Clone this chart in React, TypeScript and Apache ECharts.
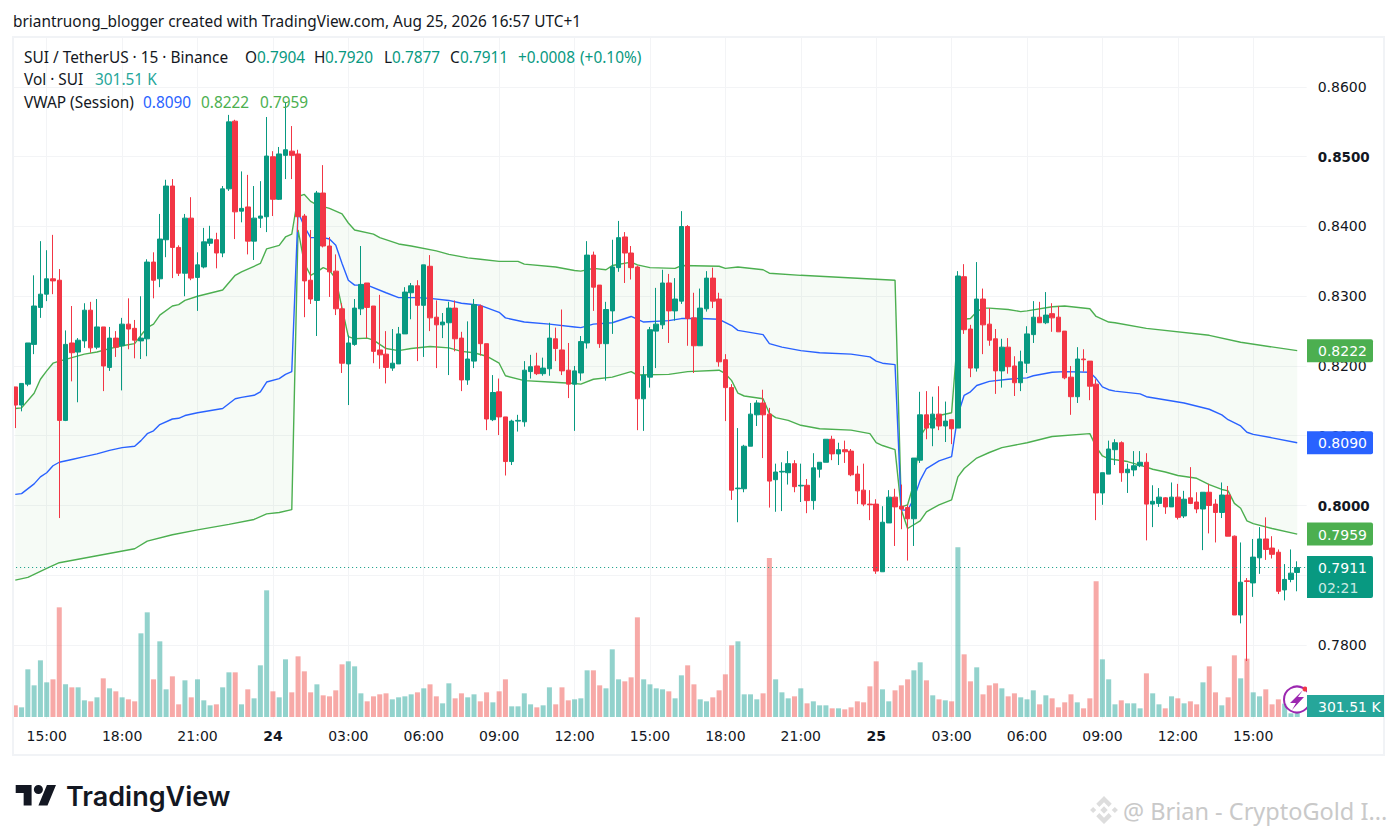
import React, { useEffect, useRef } from "react";
import * as echarts from "echarts";

const opens = [
0.8170,0.8144,0.8174,0.8231,0.8284,0.8303,0.8325,0.8323,0.8122,0.8233,
0.8220,0.8236,0.8280,0.8227,0.8256,0.8198,0.8240,0.8229,0.8260,0.8254,
0.8236,0.8239,0.8349,0.8325,0.8381,0.8458,0.8370,0.8333,0.8412,0.8327,
0.8342,0.8376,0.8381,0.8362,0.8454,0.8551,0.8422,0.8428,0.8379,0.8412,
0.8414,0.8500,0.8439,0.8502,0.8508,0.8504,0.8415,0.8323,0.8294,0.8448,
0.8372,0.8336,0.8282,0.8203,0.8231,0.8282,0.8319,0.8286,0.8223,0.8217,
0.8197,0.8203,0.8246,0.8305,0.8315,0.8287,0.8343,0.8270,0.8259,0.8262,
0.8283,0.8240,0.8180,0.8207,0.8286,0.8232,0.8123,0.8163,0.8127,0.8063,
0.8121,0.8120,0.8192,0.8200,0.8189,0.8196,0.8239,0.8223,0.8194,0.8174,
0.8190,0.8233,0.8359,0.8316,0.8232,0.8279,0.8341,0.8385,0.8362,0.8342,
0.8153,0.8184,0.8250,0.8259,0.8319,0.8279,0.8293,0.8400,0.8269,0.8229,
0.8282,0.8326,0.8296,0.8209,0.8169,0.8024,0.8024,0.8085,0.8130,0.8147,
0.8131,0.8037,0.8048,0.8047,0.8060,0.8028,0.8029,0.8007,0.8052,0.8062,
0.8095,0.8074,0.8080,0.8078,0.8045,0.8022,0.8002,0.8002,0.7905,0.7975,
0.8012,0.7999,0.7997,0.7981,0.8065,0.8130,0.8111,0.8131,0.8114,0.8123,
0.8111,0.8328,0.8253,0.8197,0.8296,0.8260,0.8239,0.8193,0.8227,0.8200,
0.8176,0.8204,0.8245,0.8270,0.8262,0.8275,0.8270,0.8250,0.8184,0.8156,
0.8210,0.8207,0.8174,0.8018,0.8045,0.8080,0.8090,0.8047,0.8051,0.8057,
0.8062,0.8002,0.8003,0.8011,0.7998,0.8012,0.7985,0.8011,0.8005,0.7995,
0.8019,0.8002,0.7990,0.8015,0.7956,0.7843,0.7892,0.7889,0.7925,0.7952,
0.7939,0.7933,0.7879,0.7894,0.7904];
const highs = [
0.8170,0.8175,0.8233,0.8330,0.8379,0.8366,0.8388,0.8339,0.8251,0.8286,
0.8240,0.8290,0.8292,0.8296,0.8256,0.8256,0.8250,0.8269,0.8297,0.8266,
0.8300,0.8353,0.8363,0.8418,0.8467,0.8468,0.8373,0.8418,0.8442,0.8363,
0.8398,0.8401,0.8391,0.8458,0.8560,0.8553,0.8479,0.8474,0.8458,0.8465,
0.8557,0.8508,0.8514,0.8577,0.8544,0.8510,0.8418,0.8395,0.8451,0.8488,
0.8385,0.8360,0.8290,0.8244,0.8296,0.8372,0.8319,0.8286,0.8302,0.8250,
0.8253,0.8256,0.8313,0.8319,0.8323,0.8345,0.8359,0.8294,0.8276,0.8292,
0.8294,0.8249,0.8264,0.8296,0.8288,0.8232,0.8187,0.8182,0.8127,0.8123,
0.8130,0.8207,0.8216,0.8219,0.8212,0.8262,0.8255,0.8281,0.8233,0.8200,
0.8243,0.8379,0.8364,0.8316,0.8292,0.8381,0.8408,0.8392,0.8372,0.8344,
0.8200,0.8256,0.8312,0.8338,0.8332,0.8326,0.8422,0.8402,0.8305,0.8311,
0.8336,0.8341,0.8305,0.8217,0.8174,0.8111,0.8087,0.8147,0.8151,0.8166,
0.8140,0.8060,0.8062,0.8078,0.8065,0.8060,0.8038,0.8075,0.8062,0.8095,
0.8100,0.8090,0.8093,0.8081,0.8057,0.8060,0.8022,0.8009,0.7999,0.8022,
0.8024,0.8030,0.8001,0.8068,0.8163,0.8164,0.8156,0.8171,0.8149,0.8123,
0.8336,0.8346,0.8259,0.8349,0.8311,0.8283,0.8253,0.8239,0.8240,0.8214,
0.8222,0.8257,0.8293,0.8292,0.8306,0.8290,0.8286,0.8250,0.8200,0.8227,
0.8224,0.8207,0.8181,0.8047,0.8093,0.8095,0.8092,0.8060,0.8078,0.8078,
0.8075,0.8029,0.8025,0.8012,0.8033,0.8031,0.8021,0.8055,0.8019,0.8019,
0.8031,0.8009,0.8033,0.8028,0.7957,0.7947,0.7896,0.7952,0.7969,0.7983,
0.7956,0.7937,0.7916,0.7937,0.7920];
const lows = [
0.8111,0.8135,0.8171,0.8217,0.8269,0.8293,0.8303,0.7982,0.8121,0.8178,
0.8148,0.8226,0.8219,0.8224,0.8164,0.8193,0.8213,0.8165,0.8224,0.8211,
0.8210,0.8214,0.8297,0.8313,0.8356,0.8326,0.8329,0.8300,0.8323,0.8279,
0.8340,0.8372,0.8340,0.8356,0.8451,0.8382,0.8406,0.8360,0.8352,0.8398,
0.8392,0.8415,0.8438,0.8468,0.8468,0.8392,0.8270,0.8289,0.8243,0.8370,
0.8299,0.8273,0.8190,0.8144,0.8229,0.8273,0.8240,0.8204,0.8196,0.8175,
0.8193,0.8203,0.8246,0.8267,0.8207,0.8213,0.8250,0.8197,0.8240,0.8187,
0.8221,0.8164,0.8173,0.8197,0.8215,0.8108,0.8121,0.8101,0.8043,0.8058,
0.8106,0.8113,0.8182,0.8187,0.8186,0.8186,0.8207,0.8187,0.8154,0.8107,
0.8179,0.8225,0.8279,0.8226,0.8179,0.8246,0.8335,0.8319,0.8324,0.8108,
0.8107,0.8169,0.8197,0.8253,0.8233,0.8265,0.8289,0.8229,0.8190,0.8229,
0.8278,0.8283,0.8199,0.8121,0.8008,0.7976,0.8019,0.8085,0.8114,0.8068,
0.7997,0.7991,0.7992,0.8030,0.8019,0.8005,0.7989,0.7994,0.8040,0.8062,
0.8065,0.8058,0.8061,0.8042,0.8002,0.7999,0.7979,0.7902,0.7905,0.7975,
0.7942,0.7966,0.7921,0.7942,0.8061,0.8095,0.8085,0.8108,0.8091,0.8088,
0.8111,0.8246,0.8184,0.8192,0.8217,0.8229,0.8160,0.8169,0.8189,0.8157,
0.8164,0.8190,0.8233,0.8262,0.8260,0.8249,0.8249,0.8181,0.8130,0.8147,
0.8192,0.8151,0.7979,0.8001,0.8045,0.8058,0.8034,0.8018,0.8042,0.8055,
0.7950,0.7969,0.7998,0.7988,0.7998,0.7980,0.7982,0.8002,0.7989,0.7936,
0.7960,0.7947,0.7982,0.7956,0.7843,0.7831,0.7777,0.7869,0.7902,0.7922,
0.7924,0.7873,0.7864,0.7890,0.7877];
const closes = [
0.8144,0.8175,0.8233,0.8286,0.8303,0.8325,0.8322,0.8122,0.8231,0.8219,
0.8237,0.8280,0.8226,0.8256,0.8200,0.8240,0.8227,0.8260,0.8253,0.8237,
0.8240,0.8349,0.8323,0.8382,0.8458,0.8370,0.8333,0.8412,0.8326,0.8345,
0.8378,0.8382,0.8362,0.8454,0.8550,0.8421,0.8426,0.8379,0.8412,0.8415,
0.8501,0.8439,0.8504,0.8510,0.8502,0.8414,0.8322,0.8296,0.8448,0.8372,
0.8335,0.8282,0.8204,0.8233,0.8283,0.8317,0.8284,0.8221,0.8216,0.8198,
0.8204,0.8246,0.8306,0.8315,0.8287,0.8345,0.8269,0.8259,0.8263,0.8283,
0.8239,0.8180,0.8210,0.8288,0.8232,0.8124,0.8162,0.8127,0.8063,0.8121,
0.8122,0.8194,0.8199,0.8189,0.8197,0.8240,0.8225,0.8193,0.8174,0.8193,
0.8235,0.8359,0.8313,0.8232,0.8281,0.8342,0.8384,0.8362,0.8341,0.8153,
0.8187,0.8252,0.8260,0.8319,0.8279,0.8296,0.8400,0.8268,0.8229,0.8283,
0.8326,0.8293,0.8206,0.8169,0.8022,0.8025,0.8085,0.8131,0.8147,0.8130,
0.8035,0.8048,0.8049,0.8060,0.8027,0.8029,0.8007,0.8054,0.8062,0.8095,
0.8074,0.8080,0.8077,0.8044,0.8021,0.8002,0.8001,0.7906,0.7976,0.8012,
0.7998,0.7995,0.7981,0.8068,0.8130,0.8111,0.8131,0.8114,0.8121,0.8110,
0.8329,0.8252,0.8197,0.8296,0.8259,0.8237,0.8193,0.8227,0.8199,0.8176,
0.8206,0.8246,0.8270,0.8262,0.8273,0.8269,0.8249,0.8183,0.8156,0.8210,
0.8209,0.8171,0.8018,0.8047,0.8081,0.8090,0.8047,0.8052,0.8057,0.8062,
0.8002,0.8006,0.8012,0.7998,0.8012,0.7983,0.8009,0.8003,0.7995,0.8019,
0.8000,0.7990,0.8015,0.7956,0.7843,0.7890,0.7891,0.7926,0.7952,0.7937,
0.7930,0.7877,0.7894,0.7903,0.7911];
const volumesK = [
875,725,3575,2375,4250,2600,2825,8225,2450,2225,
2225,1250,1175,1475,2900,2150,1925,1475,1325,1175,
6275,7850,2825,5675,2075,3050,950,2750,1475,2825,
1250,875,950,2225,3350,3350,950,2075,1400,3875,
9500,1925,1475,4325,1850,4550,3425,1850,2450,1625,
1550,2000,3950,4175,3800,1775,1175,1550,1700,1775,
1325,1475,1550,1700,1850,2150,2450,1550,1025,2525,
1400,1775,1475,1700,1175,1850,1100,1925,2825,800,
800,1775,950,725,875,2225,950,2225,1250,1325,
1400,3500,3500,2375,2150,5075,2825,2675,2975,7475,
2825,2450,2150,2075,1925,1400,3125,3875,2450,1325,
1175,1475,2000,3200,5375,5675,1700,1700,1325,1775,
11925,2825,1850,1400,1550,2150,1025,1175,875,875,
650,650,575,725,1175,1100,2300,4175,2075,1175,
2000,2375,2825,3500,4100,2750,1625,1325,1250,1175,
12725,4700,2675,3725,1700,2375,2525,2150,1550,1775,
1475,1325,2000,950,1625,1400,725,1100,1700,1100,
650,1400,10175,4325,2825,950,1250,1025,1025,650,
3275,1775,950,650,1550,1400,1025,1175,950,2600,
3800,1850,875,1475,4625,2900,4375,1850,1550,2075,
950,1325,1000,275,301.51];

const vwapMid = [[0,.8016],[1,.8017],[3,.8031],[4,.8041],[5,.8047],[6,.8057],[7,.8062],[9,.8066],[11,.8070],[13,.8074],[15,.8079],[17,.8083],[19,.8085],[20,.8093],[21,.8103],[22,.8107],[23,.8116],[25,.8124],[26,.8125],[27,.8129],[29,.8133],[33,.8139],[35,.8153],[36,.8155],[38,.8158],[39,.8163],[40,.8177],[42,.8182],[43,.8188],[44,.8192],[45,.8421],[46,.8400],[47,.8384],[49,.8384],[50,.8382],[51,.8373],[52,.8347],[53,.8323],[54,.8316],[56,.8316],[59,.8305],[61,.8298],[64,.8298],[66,.8297],[69,.8294],[71,.8290],[74,.8287],[77,.8277],[78,.8269],[81,.8263],[85,.8260],[89,.8256],[90,.8255],[92,.8260],[95,.8262],[98,.8271],[100,.8263],[104,.8265],[106,.8268],[109,.8268],[112,.8267],[114,.8258],[115,.8251],[119,.8245],[120,.8232],[122,.8227],[125,.8222],[128,.8219],[133,.8217],[136,.8213],[137,.8207],[138,.8204],[140,.8202],[141,.7994],[142,.7993],[143,.8010],[144,.8036],[145,.8053],[147,.8064],[149,.8070],[150,.8130],[151,.8158],[152,.8163],[153,.8172],[155,.8178],[158,.8181],[161,.8183],[162,.8186],[165,.8191],[167,.8192],[171,.8191],[172,.8182],[173,.8170],[174,.8166],[175,.8164],[179,.8160],[180,.8156],[186,.8147],[190,.8138],[192,.8130],[193,.8123],[195,.8114],[196,.8105],[197,.8102],[200,.8097],[204,.8090]];
const vwapUpper = [[0,.8139],[1,.8140],[3,.8161],[4,.8181],[5,.8193],[6,.8204],[7,.8207],[9,.8212],[11,.8217],[13,.8220],[15,.8225],[17,.8229],[19,.8232],[20,.8244],[21,.8255],[22,.8260],[23,.8273],[25,.8286],[26,.8288],[27,.8294],[29,.8300],[33,.8309],[35,.8330],[36,.8335],[39,.8347],[40,.8368],[42,.8373],[43,.8385],[44,.8389],[45,.8443],[46,.8446],[47,.8436],[48,.8431],[50,.8426],[52,.8418],[53,.8405],[54,.8395],[57,.8389],[58,.8384],[61,.8375],[63,.8372],[67,.8365],[69,.8360],[72,.8355],[74,.8353],[77,.8350],[80,.8350],[81,.8346],[86,.8342],[89,.8337],[90,.8336],[92,.8340],[94,.8338],[95,.8344],[98,.8349],[99,.8345],[101,.8341],[105,.8340],[106,.8344],[112,.8343],[113,.8340],[115,.8342],[119,.8338],[120,.8333],[125,.8330],[140,.8323],[141,.7998],[142,.8001],[143,.8032],[144,.8099],[145,.8113],[147,.8129],[149,.8133],[150,.8247],[151,.8267],[152,.8268],[153,.8278],[154,.8283],[155,.8283],[158,.8281],[160,.8278],[161,.8279],[165,.8285],[167,.8286],[171,.8282],[172,.8271],[174,.8263],[175,.8262],[180,.8254],[190,.8244],[195,.8234],[204,.8222]];
const vwapLower = [[0,.7893],[2,.7897],[5,.7910],[7,.7918],[13,.7928],[19,.7938],[21,.7949],[25,.7958],[29,.7965],[34,.7973],[38,.7980],[40,.7988],[42,.7990],[44,.7994],[45,.8395],[46,.8347],[47,.8330],[48,.8335],[49,.8341],[50,.8337],[51,.8325],[52,.8283],[53,.8242],[54,.8239],[56,.8240],[57,.8237],[59,.8225],[61,.8222],[63,.8225],[66,.8228],[69,.8226],[71,.8221],[73,.8219],[75,.8214],[77,.8204],[78,.8186],[81,.8179],[85,.8177],[89,.8175],[90,.8174],[92,.8181],[95,.8184],[98,.8192],[99,.8187],[104,.8188],[107,.8192],[112,.8194],[113,.8189],[114,.8179],[115,.8161],[116,.8157],[119,.8153],[120,.8132],[121,.8126],[123,.8122],[125,.8115],[128,.8110],[133,.8108],[136,.8103],[137,.8090],[138,.8086],[140,.8080],[141,.7994],[142,.7967],[144,.7978],[145,.7991],[147,.8001],[149,.8008],[150,.8041],[151,.8053],[153,.8068],[155,.8076],[157,.8083],[161,.8090],[165,.8099],[171,.8103],[172,.8084],[173,.8071],[174,.8067],[177,.8063],[180,.8055],[181,.8052],[183,.8048],[185,.8043],[188,.8039],[190,.8030],[192,.8023],[193,.8021],[194,.8003],[195,.7996],[196,.7978],[197,.7974],[200,.7967],[204,.7959]];

const priceGridTicks = [0.78, 0.79, 0.8, 0.81, 0.82, 0.83, 0.84, 0.85, 0.86];
const priceLabelTicks = [0.78, 0.8, 0.81, 0.82, 0.83, 0.84, 0.85, 0.86];
const boldPriceTicks = [0.85, 0.8];
const timeTickLabels = ["15:00", "18:00", "21:00", "24", "03:00", "06:00", "09:00", "12:00", "25"];
const dayByMidnight = ["24", "25"];
const startMinutes = 13 * 60 + 45;
const categories = Array.from({ length: 206 }, (_, i) => {
  const m = startMinutes + i * 15;
  const hh = Math.floor(m / 60) % 24;
  const mm = m % 60;
  if (hh === 0 && mm === 0) return dayByMidnight[Math.floor(m / 1440) - 1];
  return `${String(hh).padStart(2, "0")}:${String(mm).padStart(2, "0")}`;
});

const UP = "#089981";
const DOWN = "#F23645";
const BLUE = "#2962FF";
const GREEN = "#4CAF50";
const TEAL = "#26A69A";
const GRID = "#F3F4F6";
const AXIS_FONT = '"DejaVu Sans"';
const TEXT_FONT = '"Noto Sans"';

const lastClose = 0.7911;

echarts.graphic.registerShape("tvLogo", echarts.graphic.extendPath("M14 22H7V11H0V4h14v18zM28 22h-8l7.5-18h8L28 22zM24 8a4 4 0 1 1-8 0a4 4 0 1 1 8 0z", {}) as any);
echarts.graphic.registerShape("bnbLogo", echarts.graphic.extendPath("M12 9.6L14.4 12L12 14.4L9.6 12ZM12 3L17 8L15 10L12 7L9 10L7 8ZM12 21L7 16L9 14L12 17L15 14L17 16ZM3 12L5 10L7 12L5 14ZM21 12L19 10L17 12L19 14Z", {}) as any);

function txt(x: number, y: number, text: string, fill: string, font: string, align = "left") {
  return { type: "text", x, y, z: 50, silent: true, style: { text, fill, font, align, verticalAlign: "middle" } };
}

export default function App() {
  const ref = useRef<HTMLDivElement>(null);
  useEffect(() => {
    const chart = echarts.init(ref.current!, undefined, { renderer: "svg" });
    const legend = `15.4px ${TEXT_FONT}`;
    const option: any = {
      animation: false,
      backgroundColor: "#fff",
      grid: [
        { left: 12.14, top: 37, width: 1294.5, height: 682 },
        { left: 12.14, top: 417, width: 1294.5, height: 300 },
      ],
      xAxis: [
        {
          type: "category", gridIndex: 0, data: categories, boundaryGap: true,
          axisLine: { show: false }, axisTick: { show: false },
          axisLabel: {
            interval: (_: number, v: string) => timeTickLabels.includes(v),
            formatter: (v: string) => (v.length === 2 ? `{b|${v}}` : v),
            color: "#131722", fontFamily: AXIS_FONT, fontSize: 14, margin: 10, hideOverlap: false,
            rich: { b: { fontWeight: "bold", fontFamily: AXIS_FONT, fontSize: 14, color: "#131722" } },
          },
          splitLine: {
            show: true, alignWithLabel: true,
            interval: (_: number, v: string) => timeTickLabels.includes(v),
            lineStyle: { color: GRID, width: 1 },
          },
        },
        { type: "category", gridIndex: 1, data: categories, boundaryGap: true, show: false },
      ],
      yAxis: [
        {
          type: "value", gridIndex: 0, position: "right", min: 0.769391, max: 0.867168, scale: true,
          axisLine: { show: false },
          axisTick: { show: false, customValues: priceGridTicks },
          axisLabel: {
            customValues: priceLabelTicks, margin: 11, align: "left",
            color: "#131722", fontFamily: AXIS_FONT, fontSize: 14,
            formatter: (v: number) => boldPriceTicks.some((b) => Math.abs(b - v) < 1e-6) ? `{b|${v.toFixed(4)}}` : v.toFixed(4),
            rich: { b: { fontWeight: "bold", fontFamily: AXIS_FONT, fontSize: 13.5, color: "#131722" } },
          },
          splitLine: { show: true, lineStyle: { color: GRID, width: 1 } },
        },
        { type: "value", gridIndex: 1, min: 0, max: 22500, show: false, splitLine: { show: false } },
      ],
      series: [
        {
          type: "custom", coordinateSystem: "cartesian2d", xAxisIndex: 0, yAxisIndex: 0, silent: true, z: 1,
          data: [[0, 0.8]],
          renderItem: (_: any, api: any) => ({
            type: "polygon",
            shape: { points: [...vwapUpper.map((p) => api.coord(p)), ...[...vwapLower].reverse().map((p) => api.coord(p))] },
            style: { fill: "rgba(76,175,80,0.05)", stroke: "none" },
          }),
        },
        {
          type: "bar", xAxisIndex: 1, yAxisIndex: 1, barWidth: 5, z: 2, silent: true,
          data: volumesK.map((v, i) => ({
            value: v,
            itemStyle: { color: closes[i] >= opens[i] ? "rgba(38,166,154,0.5)" : "rgba(239,83,80,0.5)" },
          })),
        },
        ...[[vwapUpper, GREEN], [vwapLower, GREEN], [vwapMid, BLUE]].map(([d, c]) => ({
          type: "line", xAxisIndex: 0, yAxisIndex: 0, data: d, showSymbol: false, symbol: "none", z: 3, silent: true,
          lineStyle: { color: c, width: 1.4 },
        })),
        {
          type: "candlestick", xAxisIndex: 0, yAxisIndex: 0, barWidth: 5, z: 4, silent: true,
          data: opens.map((o, i) => [o, closes[i], lows[i], highs[i]]),
          itemStyle: { color: UP, color0: DOWN, borderColor: UP, borderColor0: DOWN, borderWidth: 1 },
          markLine: {
            silent: true, symbol: "none", precision: 4, label: { show: false },
            lineStyle: { color: UP, type: [1, 3], width: 1 },
            data: [{ yAxis: lastClose }],
          },
        },
      ],
    };
    chart.setOption(option);

    const yOf = (v: number) => chart.convertToPixel({ yAxisIndex: 0 }, v) as number;
    const tagFont = `14px ${AXIS_FONT}`;
    const tag = (v: number, color: string) => [
      { type: "rect", z: 40, silent: true, shape: { x: 1307, y: yOf(v) - 11.5, width: 66, height: 23, r: [0, 2, 2, 0] }, style: { fill: color } },
      txt(1318, yOf(v) + 0.5, v.toFixed(4), "#fff", tagFont),
    ];
    const yLast = yOf(lastClose);
    const graphics: any[] = [
      { type: "rect", z: 30, silent: true, shape: { x: 13, y: 37, width: 1371, height: 718 }, style: { fill: "none", stroke: "#F1F3F6", lineWidth: 2 } },
      txt(13, 21, "briantruong_blogger created with TradingView.com, Aug 25, 2026 16:57 UTC+1", "#131722", legend),
      txt(24, 57, "SUI / TetherUS · 15 · Binance", "#131722", legend),
      txt(245, 57, "O", "#131722", legend), txt(257, 57, "0.7904", UP, legend),
      txt(314, 57, "H", "#131722", legend), txt(325, 57, "0.7920", UP, legend),
      txt(384, 57, "L", "#131722", legend), txt(392, 57, "0.7877", UP, legend),
      txt(450, 57, "C", "#131722", legend), txt(460, 57, "0.7911", UP, legend),
      txt(518, 57, "+0.0008", UP, legend), txt(580, 57, "(+0.10%)", UP, legend),
      txt(24, 79, "Vol · SUI", "#131722", legend), txt(95, 79, "301.51 K", TEAL, legend),
      txt(24, 102, "VWAP (Session)", "#131722", legend),
      txt(143, 102, "0.8090", BLUE, legend), txt(201, 102, "0.8222", GREEN, legend), txt(260, 102, "0.7959", GREEN, legend),
      { type: "circle", z: 35, silent: true, shape: { cx: 1297, cy: 699.5, r: 13 }, style: { fill: "rgba(255,255,255,0.75)", stroke: "#9C27B0", lineWidth: 2 } },
      { type: "polygon", z: 36, silent: true, shape: { points: [[1303, 690], [1290, 703], [1296, 703], [1292, 710], [1304, 697], [1298, 697]] }, style: { fill: "#9C27B0" } },
      { type: "circle", z: 36, silent: true, shape: { cx: 1305, cy: 689, r: 2.5 }, style: { fill: DOWN } },
      { type: "rect", z: 37, silent: true, shape: { x: 1307, y: 680, width: 76, height: 15 }, style: { fill: "#fff" } },
      ...tag(0.8222, GREEN), ...tag(0.809, BLUE), ...tag(0.7959, GREEN),
      { type: "rect", z: 40, silent: true, shape: { x: 1307, y: yLast - 11.5, width: 66, height: 42, r: [0, 2, 2, 0] }, style: { fill: UP } },
      txt(1318, yLast, "0.7911", "#fff", tagFont),
      txt(1318, yLast + 20.5, "02:21", "rgba(255,255,255,0.8)", tagFont),
      { type: "rect", z: 40, silent: true, shape: { x: 1307, y: 695, width: 77, height: 22 }, style: { fill: TEAL } },
      txt(1318, 706.5, "301.51 K", "#fff", tagFont),
      { type: "tvLogo", z: 40, silent: true, x: 15.7, y: 780.5, scaleX: 1.135, scaleY: 1.135, style: { fill: "#131722" } },
      txt(66, 796, "TradingView", "#131722", `600 27px Inter`),
      { type: "bnbLogo", z: 40, silent: true, x: 1085.4, y: 791.4, scaleX: 1.55, scaleY: 1.55, style: { fill: "#DDDDDD" } },
      txt(1123, 811, "@ Brian - CryptoGold I...", "#C9C9C9", `23.5px ${TEXT_FONT}`),
    ];
    chart.setOption({ graphic: graphics });
    return () => chart.dispose();
  }, []);
  return <div ref={ref} style={{ position: "fixed", left: 0, top: 0, width: 1397, height: 836, background: "#fff" }} />;
}
